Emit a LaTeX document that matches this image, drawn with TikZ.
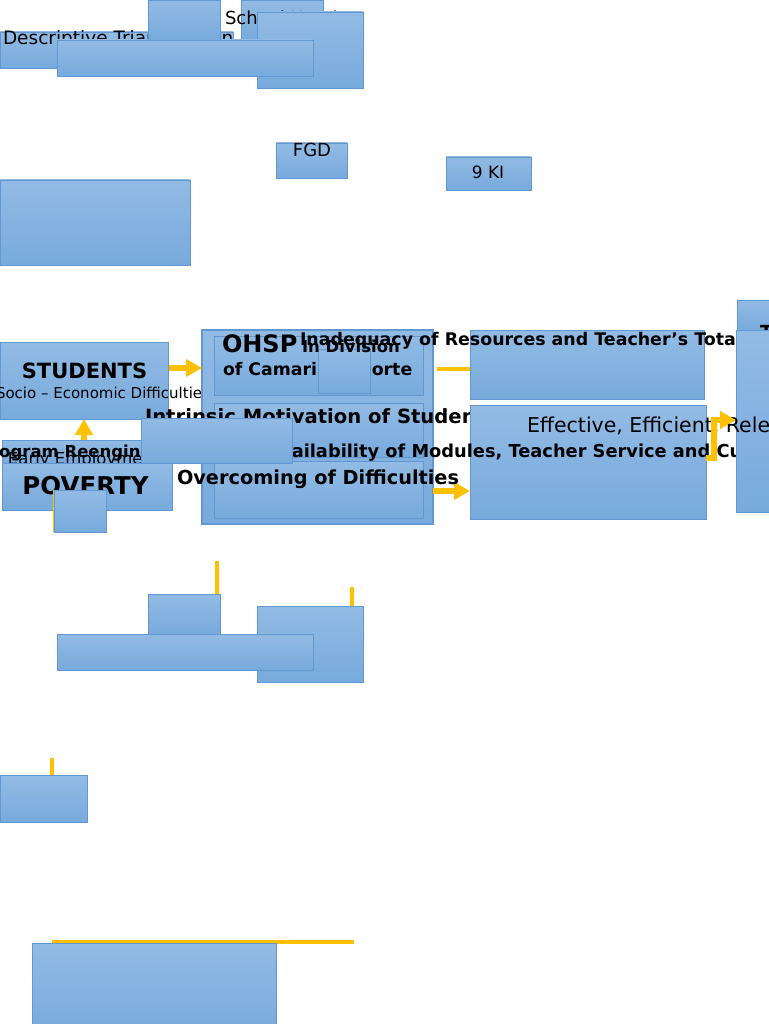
\documentclass[tikz,border=0pt]{standalone}
\usepackage{fontspec}
\setmainfont{DejaVu Sans}
\usetikzlibrary{arrows.meta}

\definecolor{boxtop}{RGB}{146,187,228}
\definecolor{boxbot}{RGB}{120,170,221}
\definecolor{boxline}{RGB}{98,152,210}
\definecolor{feed}{RGB}{255,192,0}

\newcommand{\fsz}[1]{\fontsize{#1}{#1}\selectfont}

\tikzset{
  blk/.style={draw=boxline, line width=0.9pt, top color=boxtop, bottom color=boxbot,
    anchor=north west, inner sep=0pt, outer sep=0pt},
  hub/.style={blk, line width=1.8pt},
  txt/.style={anchor=base west, inner sep=0pt, outer sep=0pt},
  ctxt/.style={anchor=base, inner sep=0pt, outer sep=0pt},
  flow/.style={draw=feed, line width=4.5pt},
  flowarrow/.style={flow, line width=5.5pt, -{Triangle[length=16pt,width=17pt]}}
}

\begin{document}
\begin{tikzpicture}[x=1pt, y=-1pt]
            \useasboundingbox[fill=white] (0,0) rectangle (768,1024);

            \node[blk, minimum width=233, minimum height=36] (desc) at (0,32) {};
            \node[txt, font=\fsz{18.5}] (desctxt) at (3,45) {Descriptive Triangulation};
            \node[blk, minimum width=82, minimum height=40] (school) at (241,0) {};
            \node[txt, font=\fsz{18}] (schooltxt) at (225,25) {School Heads};
            \node[blk, minimum width=106, minimum height=76] (topr) at (257,12) {};
            \node[blk, minimum width=256, minimum height=36] (topbar) at (57,40) {};
            \node[blk, minimum width=72, minimum height=40] (topc) at (148,0) {};

            \node[blk, minimum width=71, minimum height=35] (fgd) at (276,143) {};
            \node[ctxt, font=\fsz{18}] (fgdtxt) at (312,157) {FGD};
            \node[blk, minimum width=85, minimum height=33] (ki) at (446,157) {};
            \node[ctxt, font=\fsz{17}] (kitxt) at (488,179) {9 KI};
            \node[blk, minimum width=190, minimum height=85] (gap) at (0,180) {};

            \node[blk, minimum width=40, minimum height=30] (tcap) at (737,300) {};
            \node[txt, font=\bfseries\fsz{18}] (tcaptxt) at (760,338) {T};

            \node[blk, minimum width=168, minimum height=77] (students) at (0,342) {};
            \node[ctxt, font=\bfseries\fsz{21}] (studtxt) at (84.5,378) {STUDENTS};
            \node[txt, font=\fsz{15}] (socio) at (-4,398) {Socio – Economic Difficulties};

            \node[blk, minimum width=180, minimum height=23] (prog) at (2,440) {};
            \node[txt, font=\fsz{16.5}] (early) at (8,464) {Early Employment};
            \node[txt, font=\bfseries\fsz{16.5}] (progtxt) at (-21,457) {Program Reengineering};
            \draw[flowarrow] (prog.north -| students.south) -- (students.south);

            \node[blk, minimum width=170, minimum height=47] (poverty) at (2,463) {};
            \node[ctxt, font=\bfseries\fsz{24.5}] (povtxt) at (85.5,494) {POVERTY};
            \coordinate (pv1) at (53.5,490);
            \coordinate (pv2) at (53.5,532);
            \draw[draw=feed, line width=1.5pt] (pv1) -- (pv2);
            \node[blk, minimum width=52, minimum height=42] (povsq) at (54.5,490) {};

            \node[hub, minimum width=231, minimum height=194] (ohsp) at (202,330) {};
            \node[blk, minimum width=209, minimum height=59] (ohspa) at (214,336) {};
            \node[blk, minimum width=209, minimum height=54] (ohspb) at (214,403) {};
            \node[blk, minimum width=209, minimum height=57] (ohspc) at (214,461) {};
            \node[txt, font=\bfseries\fsz{24}] (ohsptxt) at (222,352) {OHSP};
            \node[txt, font=\bfseries\fsz{17.3}] (camtxt) at (223,375) {of Camarines Norte};
            \node[blk, minimum width=52, minimum height=44] (ohspsq) at (318,349) {};
            \node[txt, font=\bfseries\fsz{16.5}] (divtxt) at (302,352) {In Division};
            \node[txt, font=\bfseries\fsz{19.6}] (intrtxt) at (145,423) {Intrinsic Motivation of Students};

            \coordinate (s1) at (169,368);
            \draw[flowarrow] (s1) -- (s1 -| ohsp.west);
            \coordinate (o1) at (437,369);
            \coordinate (o2) at (433,491);

            \node[blk, minimum width=234, minimum height=69] (inadeq) at (470,330) {};
            \node[blk, minimum width=236, minimum height=114] (effect) at (470,405) {};
            \draw[flow] (o1) -- (o1 -| inadeq.west);
            \draw[flowarrow] (o2) -- (o2 -| effect.west);
            \node[txt, font=\bfseries\fsz{17.4}] (inadtxt) at (300,345) {Inadequacy of Resources and Teacher’s Total Commitment};
            \node[txt, font=\bfseries\fsz{17.8}] (availtxt) at (267,457) {Availability of Modules, Teacher Service and Curriculum};
            \node[blk, minimum width=40, minimum height=182] (outcome) at (736,330) {};
            \node[txt, font=\fsz{20.5}] (efftxt) at (527,432) {Effective, Efficient, Relevant};
            \coordinate (e1) at (706,458);
            \coordinate (e2) at (714,420);
            \draw[flowarrow, line join=miter] (e1) -| (e2) -- (e2 -| outcome.west);

            \node[blk, minimum width=151, minimum height=45] (blank) at (141,418) {};
            \node[txt, font=\bfseries\fsz{19.3}] (overtxt) at (177,484) {Overcoming of Difficulties};

            \node[blk, minimum width=72, minimum height=40] (botc) at (148,594) {};
            \node[blk, minimum width=106, minimum height=76] (botr) at (257,606) {};
            \node[blk, minimum width=256, minimum height=36] (botbar) at (57,634) {};
            \coordinate (b1) at (217,561);
            \draw[flow] (b1) -- (b1 |- botc.north);
            \coordinate (b2) at (352,587);
            \draw[flow, line width=4pt] (b2) -- (b2 |- botr.north);

            \node[blk, minimum width=87, minimum height=47] (lowbox) at (0,775) {};
            \coordinate (b3) at (52,758);
            \draw[flow] (b3) -- (b3 |- lowbox.north);

            \coordinate (b4) at (52,942);
            \coordinate (b5) at (354,942);
            \draw[flow] (b4) -- (b5);
            \node[blk, minimum width=244, minimum height=90] (base) at (32,943.5) {};
        \end{tikzpicture}
\end{document}
